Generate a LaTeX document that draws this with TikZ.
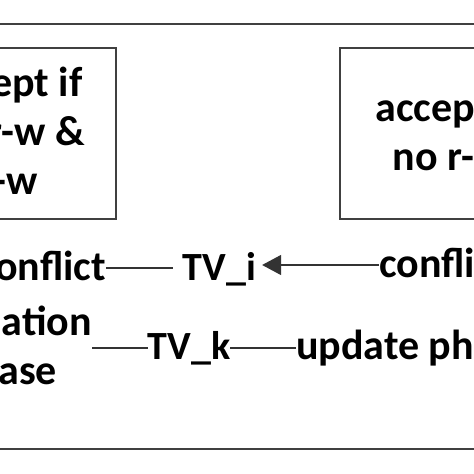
\documentclass[tikz,border=0pt]{standalone}
\usepackage{fontspec}
\setmainfont{Carlito}
\usetikzlibrary{arrows.meta}

\begin{document}
\begin{tikzpicture}[x=1pt, y=-1pt,
    phase/.style={draw=black!75, line width=1.6pt, minimum height=171pt, inner sep=0pt},
    word/.style={inner sep=0pt, align=center, font=\bfseries\fontsize{42}{49}\selectfont},
    tv/.style={inner sep=0pt, font=\bfseries\fontsize{40}{48}\selectfont},
    frame/.style={draw=black!75, line width=1.5pt},
    wire/.style={draw=black!80, line width=1.3pt}
]
\path[use as bounding box, clip] (0,0) rectangle (474,474);

% Outer frame
\draw[frame] (-100,24) rectangle (600,449);

% Accept boxes
\node[phase, minimum width=206pt] (okL) at (13,133.5) {};
\node[phase, minimum width=218pt] (okR) at (449,133.5) {};
\node[word] (okLt) at (9,131) {accept if\\no r-w \&\\r-w};
\node[word] (okRt) at (449,131) {accept if\\no r-w};

% Conflict row
\node[word, anchor=base east] (cfL) at (106,280) {conflict};
\node[tv, anchor=base west] (tvi) at (182.5,280) {TV\_i};
\node[word, anchor=base west] (cfR) at (379,277) {conflict};

% Update row
\node[word] (val) at (5,349) {validation\\phase};
\node[tv, anchor=base west] (tvk) at (147.5,359) {TV\_k};
\node[word, anchor=base west] (upd) at (296,359) {update phase};

% Connectors
\draw[wire, shorten >=10pt] ([yshift=12pt]cfL.base east) -- ([yshift=12pt]tvi.base west);
\draw[wire, -{Triangle[length=19pt, width=20pt]}, shorten >=6pt] ([yshift=12pt]cfR.base west) -- ([yshift=12pt]cfR.base west -| tvi.east);
\draw[wire] ([yshift=11pt]tvk.base west) -- ([yshift=11pt]tvk.base west -| val.east);
\draw[wire] ([yshift=11pt]tvk.base east) -- ([yshift=11pt]upd.base west);

\end{tikzpicture}
\end{document}
